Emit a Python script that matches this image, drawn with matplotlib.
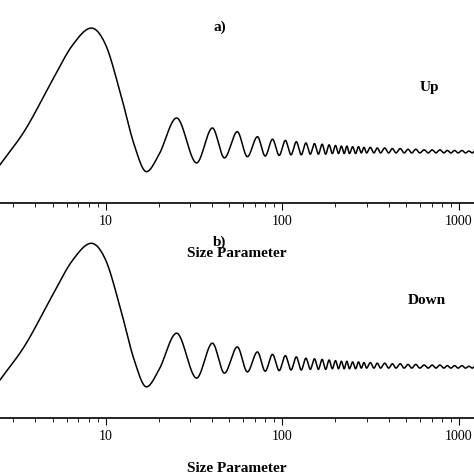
import numpy as np
import matplotlib
matplotlib.use("Agg")
import matplotlib.pyplot as plt

# extrema / key points (size parameter, efficiency-like value)
x_ext = [2.52, 3.5, 5.0, 6.5, 8.3, 10.0, 12.0, 14.5, 17.0, 20.0, 25.2, 32.7, 40.2, 47.0, 55.6, 63.4, 72.3, 80,
         88, 96, 104, 112, 120, 128, 136, 144, 152, 160, 168, 176, 184, 192, 200, 208, 216, 224, 232, 240,
         250, 260, 270, 280, 290, 300, 315, 330, 345, 360, 380, 400, 420, 440, 465, 490, 515, 540, 570, 600,
         635, 670, 705, 740, 780, 820, 860, 900, 945, 990, 1040, 1090, 1140, 1190, 1217]
y_ext = [1.81, 2.37, 3.17, 3.73, 4.00, 3.73, 3.00, 2.13, 1.70, 1.97, 2.56, 1.84, 2.40, 1.92, 2.34, 1.94, 2.26, 1.95,
         2.22, 1.96, 2.20, 1.97, 2.18, 1.97, 2.16, 1.98, 2.15, 1.98, 2.14, 1.98, 2.13, 1.99, 2.12, 1.99, 2.11, 1.99, 2.11, 1.99,
         2.10, 1.99, 2.10, 2.00, 2.09, 2.00, 2.09, 2.00, 2.08, 2.00, 2.08, 2.00, 2.07, 2.00, 2.07, 2.00, 2.06, 2.00, 2.06, 2.00,
         2.05, 2.00, 2.05, 2.00, 2.05, 2.00, 2.04, 2.00, 2.04, 2.00, 2.04, 2.00, 2.03, 2.00, 2.02]
labels = ["a)", "b)"]
names = ["Up", "Down"]

def smooth(xs, ys, n=30):
    lx = np.log10(np.array(xs, float)); y = np.array(ys, float)
    N = len(y); m = np.zeros(N)
    for i in range(N):
        if 0 < i < N - 1:
            d1 = (y[i] - y[i-1]) / (lx[i] - lx[i-1]); d2 = (y[i+1] - y[i]) / (lx[i+1] - lx[i])
            m[i] = 0 if d1 * d2 <= 0 else (d1 + d2) / 2
        elif i == 0:
            m[i] = (y[1] - y[0]) / (lx[1] - lx[0])
    X = []; Y = []
    for i in range(N - 1):
        t = np.linspace(0, 1, n, endpoint=False); h = lx[i+1] - lx[i]
        h00 = 2*t**3 - 3*t**2 + 1; h10 = t**3 - 2*t**2 + t; h01 = -2*t**3 + 3*t**2; h11 = t**3 - t**2
        X.append(10 ** (lx[i] + h * t)); Y.append(h00*y[i] + h10*h*m[i] + h01*y[i+1] + h11*h*m[i+1])
    X.append([xs[-1]]); Y.append([ys[-1]])
    return np.concatenate(X), np.concatenate(Y)

sx, sy = smooth(x_ext, y_ext)
fig = plt.figure(figsize=(4.74, 4.74), dpi=100)
serif = "Liberation Serif"
for k, (bot, nx, ny) in enumerate([(0.572, 0.885, 0.55), (0.118, 0.86, 0.56)]):
    ax = fig.add_axes([0, bot, 1, 0.428])
    ax.patch.set_visible(False)
    ax.plot(sx, sy, color="black", lw=1.1)
    ax.set_xscale("log")
    ax.set_xlim(2.52, 1217)
    ax.set_ylim(1.2, 4.45)
    for s in ["top", "right", "left"]:
        ax.spines[s].set_visible(False)
    ax.spines["bottom"].set_linewidth(1.2)
    ax.set_yticks([])
    ax.tick_params(axis="x", which="major", length=5, labelsize=10, direction="out")
    ax.tick_params(axis="x", which="minor", length=3)
    ax.set_xticks([10, 100, 1000], ["10", "100", "1000"], fontfamily=serif)
    ax.set_xlabel("Size Parameter", fontfamily=serif, fontweight="bold", fontsize=11, labelpad=14)
    ax.text(0.45, 0.85, labels[k], transform=ax.transAxes, fontfamily=serif, fontweight="bold", fontsize=11)
    ax.text(nx, ny, names[k], transform=ax.transAxes, fontfamily=serif, fontweight="bold", fontsize=11)
fig.savefig("out.png", dpi=100)
